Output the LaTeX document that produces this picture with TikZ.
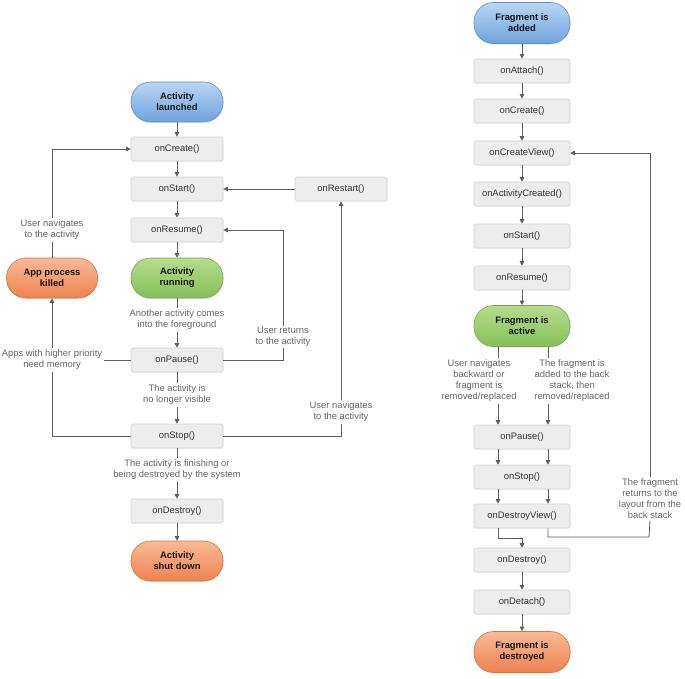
\documentclass[tikz,border=0pt]{standalone}
\usepackage{fontspec}
\setmainfont{Liberation Sans}
\usetikzlibrary{arrows.meta,calc,shadows}
\definecolor{boxfill}{HTML}{EDEDED}
\definecolor{boxline}{HTML}{D2D2D2}
\definecolor{boxtext}{HTML}{333333}
\definecolor{lbltext}{HTML}{666666}
\definecolor{linecol}{HTML}{5E5E5E}
\definecolor{pilltext}{HTML}{151515}
\definecolor{bluetop}{HTML}{BAD6F3}
\definecolor{bluebot}{HTML}{6EA2DB}
\definecolor{blueline}{HTML}{5E8FC8}
\definecolor{greentop}{HTML}{B6DC8E}
\definecolor{greenbot}{HTML}{86BF58}
\definecolor{greenline}{HTML}{76A64C}
\definecolor{orangetop}{HTML}{F9BA96}
\definecolor{orangebot}{HTML}{EE8250}
\definecolor{orangeline}{HTML}{D37444}
\begin{document}
\begin{tikzpicture}[x=1pt,y=-1pt,
  softshadow/.style={drop shadow={opacity=0.18, shadow xshift=0.6pt, shadow yshift=-1.2pt}},
  box/.style={draw=boxline, fill=boxfill, line width=0.6pt, rounded corners=1.5pt, minimum width=92pt, minimum height=24pt, inner sep=0pt, font=\fontsize{9.4}{11}\selectfont, text=boxtext, drop shadow={opacity=0.08, shadow xshift=0.5pt, shadow yshift=-0.8pt}},
  boxr/.style={box, minimum width=96pt},
  pill/.style={rounded corners=19.5pt, line width=0.6pt, minimum width=92pt, minimum height=40pt, inner sep=0pt, align=center, font=\fontsize{9.4}{11}\selectfont\bfseries, text=pilltext, softshadow},
  pillblue/.style={pill, draw=blueline, top color=bluetop, bottom color=bluebot},
  pillgreen/.style={pill, draw=greenline, top color=greentop, bottom color=greenbot},
  pillorange/.style={pill, draw=orangeline, top color=orangetop, bottom color=orangebot},
  lbl/.style={fill=white, inner sep=1.5pt, align=center, font=\fontsize{9.4}{11}\selectfont, text=lbltext},
  conn/.style={draw=linecol, line width=0.8pt},
  arr/.style={conn, -{Triangle[length=4.5pt,width=4.5pt]}}
]
\useasboundingbox (0,0) rectangle (685,679);

% ---------- Activity lifecycle ----------
\node[pillblue] (launched) at (177,102) {Activity\\launched};
\node[box] (onCreate) at (177,149) {onCreate()};
\node[box] (onStart) at (177,189) {onStart()};
\node[box] (onRestart) at (341,189) {onRestart()};
\node[box] (onResume) at (177,230) {onResume()};
\node[pillgreen] (running) at (177,278) {Activity\\running};
\node[pillorange, minimum width=91pt] (killed) at (52,278) {App process\\killed};
\node[box] (onPause) at (177,360) {onPause()};
\node[box] (onStop) at (177,436) {onStop()};
\node[box] (onDestroy) at (177,511) {onDestroy()};
\node[pillorange] (shutdown) at (177,561) {Activity\\shut down};

\node[lbl] (lblNav1) at (52,230) {User navigates\\to the activity};
\node[lbl] (lblApps) at (52,360) {Apps with higher priority\\need memory};
\node[lbl] (lblAnother) at (177,320) {Another activity comes\\into the foreground};
\node[lbl] (lblReturns) at (283,337) {User returns\\to the activity};
\node[lbl] (lblVisible) at (177,395) {The activity is\\no longer visible};
\node[lbl] (lblNav2) at (341,412) {User navigates\\to the activity};
\node[lbl] (lblFinish) at (177,470) {The activity is finishing or\\being destroyed by the system};

\draw[arr] (launched) -- (onCreate);
\draw[arr] (onCreate) -- (onStart);
\draw[arr] (onStart) -- (onResume);
\draw[arr] (onResume) -- (running);
\draw[conn] (running) -- (lblAnother);
\draw[arr] (lblAnother) -- (onPause);
\draw[conn] (onPause) -- (lblVisible);
\draw[arr] (lblVisible) -- (onStop);
\draw[conn] (onStop) -- (lblFinish);
\draw[arr] (lblFinish) -- (onDestroy);
\draw[arr] (onDestroy) -- (shutdown);
\draw[arr] (onRestart) -- (onStart);
\draw[conn] (onPause.east) -| (lblReturns.south);
\draw[arr] (lblReturns.north) |- (onResume.east);
\draw[conn] (onStop.east) -| (lblNav2.south);
\draw[arr] (lblNav2.north) -- (onRestart.south);
\draw[conn] (onStop.west) -| (lblApps.south);
\draw[arr] (lblApps.north) -- (killed.south);
\draw[conn] (onPause.west) -- (lblApps.east);
\draw[conn] (killed.north) -- (lblNav1.south);
\draw[arr] (lblNav1.north) |- (onCreate.west);

% ---------- Fragment lifecycle ----------
\node[pillblue, minimum width=96pt, minimum height=41pt] (added) at (522,23) {Fragment is\\added};
\node[boxr] (attach) at (522,71) {onAttach()};
\node[boxr] (createF) at (522,111) {onCreate()};
\node[boxr] (cview) at (522,153) {onCreateView()};
\node[boxr] (actcr) at (522,194) {onActivityCreated()};
\node[boxr] (startF) at (522,236) {onStart()};
\node[boxr] (resumeF) at (522,278) {onResume()};
\node[pillgreen, minimum width=96pt, minimum height=41pt] (active) at (522,326) {Fragment is\\active};
\node[lbl] (lblBack) at (479,381) {User navigates\\backward or\\fragment is\\removed/replaced};
\node[lbl] (lblStack) at (572,381) {The fragment is\\added to the back\\stack, then\\removed/replaced};
\node[boxr] (pauseF) at (522,437) {onPause()};
\node[boxr] (stopF) at (522,477) {onStop()};
\node[boxr] (dview) at (522,516) {onDestroyView()};
\node[boxr] (destroyF) at (522,560) {onDestroy()};
\node[boxr] (detach) at (522,602) {onDetach()};
\node[pillorange, minimum width=96pt, minimum height=41pt] (destroyed) at (522,652) {Fragment is\\destroyed};
\node[lbl] (lblRet) at (650,499) {The fragment\\returns to the\\layout from the\\back stack};

\coordinate (xA) at (498,0);
\coordinate (xB) at (548,0);
\coordinate (cA) at (522,538);
\coordinate (cB) at (649,537);

\draw[arr] (added) -- (attach);
\draw[arr] (attach) -- (createF);
\draw[arr] (createF) -- (cview);
\draw[arr] (cview) -- (actcr);
\draw[arr] (actcr) -- (startF);
\draw[arr] (startF) -- (resumeF);
\draw[arr] (resumeF) -- (active);
\draw[conn] (xA |- active.south) -- (xA |- lblBack.north);
\draw[conn] (xB |- active.south) -- (xB |- lblStack.north);
\draw[arr] (xA |- lblBack.south) -- (xA |- pauseF.north);
\draw[arr] (xB |- lblStack.south) -- (xB |- pauseF.north);
\draw[arr] (xA |- pauseF.south) -- (xA |- stopF.north);
\draw[arr] (xB |- pauseF.south) -- (xB |- stopF.north);
\draw[arr] (xA |- stopF.south) -- (xA |- dview.north);
\draw[arr] (xB |- stopF.south) -- (xB |- dview.north);
\draw[arr] (xA |- dview.south) |- (cA) -- (destroyF.north);
\draw[conn] (xB |- dview.south) |- (cB) -- (lblRet.south);
\draw[arr] (lblRet.north) |- (cview.east);
\draw[arr] (destroyF) -- (detach);
\draw[arr] (detach) -- (destroyed);
\end{tikzpicture}
\end{document}
